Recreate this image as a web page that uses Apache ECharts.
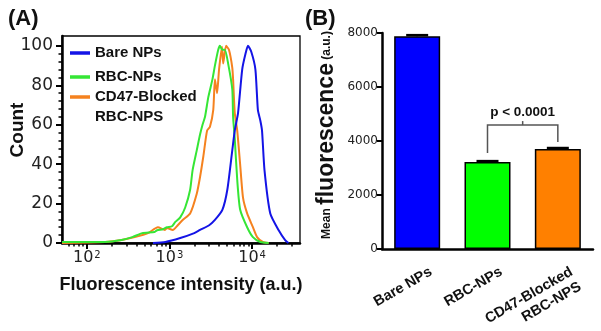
<!DOCTYPE html>
<html>
<head>
<meta charset="utf-8">
<script src="https://cdn.jsdelivr.net/npm/echarts@6/dist/echarts.min.js"></script>
<style>
html, body { margin: 0; padding: 0; background: #fff; }
#chart { width: 601px; height: 331px; }
</style>
</head>
<body>
<div id="chart"></div>
<script>
// (A) histograms, [intensity, count]
var bareNPs = [[631,0],[891,0.5],[1349,2.5],[1995,5],[2344,6.6],[3020,9],[3548,11.7],[4365,16.8],[5012,27],[5754,47],[6166,57],[6761,66],[7586,88],[8318,96],[8913,100],[9772,97],[10965,88],[11749,67.5],[12589,62],[13183,57],[14125,37],[16596,15],[20893,6.6],[25119,1.5],[27542,0]];
var rbcNPs = [[50,0.5],[166,0.5],[263,1.5],[355,3],[468,5],[661,5.6],[708,6.5],[832,7],[933,8],[1072,8.5],[1175,10.7],[1349,13],[1549,18],[1778,27],[1905,37],[2138,47],[2344,55],[2512,60],[2692,64],[2951,74],[3311,83],[3548,90],[3890,98],[4074,100],[4365,98],[4677,98],[5129,91],[5754,78],[5888,64],[6166,53],[6607,32],[7161,17],[8710,8],[10233,3],[12589,0.5],[15849,0]];
var cd47NPs = [[50,0],[166,0.5],[263,1.5],[380,3],[550,5],[724,8],[881,6.6],[933,7.6],[1096,6.6],[1259,9],[1445,11.7],[1778,15],[2138,25],[2344,33.5],[2570,44],[2851,57],[3090,59],[3388,67.5],[3548,83],[3767,76],[3981,88],[4325,99.5],[4467,91],[4842,100],[5248,98],[5754,89],[5888,83],[6166,66],[6607,57],[7161,40],[7762,23],[8710,15],[10233,8],[11482,3],[13490,0.5],[15849,0]];
var namesA = ['Bare NPs', 'RBC-NPs', 'CD47-Blocked\nRBC-NPS'];
var colorsA = ['#1414e6', '#35e635', '#f5821f'];
var countTicks = [0, 20, 40, 60, 80, 100];
var decadeTicks = [100, 1000, 10000];

// (B) mean fluorescence
var groups = ['Bare NPs', 'RBC-NPs', 'CD47-Blocked\nRBC-NPS'];
var meanFluor = [7880, 3220, 3700];
var errFluor = [40, 35, 40];
var barColors = ['#0000ff', '#00ff00', '#ff8000'];
var pText = 'p < 0.0001';
var bracket = [1, 2, 3560, 3960, 4590]; // from, to, left leg, right leg, top

var font = "'Liberation Sans', Arial, sans-serif";
var numFont = "'DejaVu Sans', sans-serif";

var xMin = 50, xMax = 38000;
var minorX = [];
for (var d = 10; d <= 10000; d *= 10) {
    for (var k = 2; k <= 9; k++) {
        if (k * d > xMin && k * d < xMax) minorX.push(k * d);
    }
}
var minorY = [];
for (var v = 4; v < 100; v += 4) {
    if (v % 20 !== 0) minorY.push(v);
}

var chart = echarts.init(document.getElementById('chart'));

var lineSeries = [bareNPs, rbcNPs, cd47NPs].map(function (d, i) {
    return {
        name: namesA[i],
        type: 'line',
        xAxisIndex: 0,
        yAxisIndex: 0,
        data: d,
        showSymbol: false,
        smooth: 0.2,
        color: colorsA[i],
        lineStyle: { width: 2 },
        z: 3 - i
    };
});

var legendText = { fontFamily: font, fontSize: 15, fontWeight: 'bold', color: '#111', lineHeight: 20 };

var option = {
    animation: false,
    title: [
        { text: '(A)', left: 8, top: 8, padding: 0, textStyle: { fontFamily: font, fontSize: 22, fontWeight: 'bold', color: '#111' } },
        { text: '(B)', left: 305, top: 8, padding: 0, textStyle: { fontFamily: font, fontSize: 22, fontWeight: 'bold', color: '#111' } }
    ],
    legend: [
        {
            data: namesA.slice(0, 2),
            orient: 'vertical',
            left: 70, top: 43, padding: 0, itemGap: 4,
            icon: 'rect', itemWidth: 20, itemHeight: 3.5,
            textStyle: legendText
        },
        {
            data: namesA.slice(2),
            orient: 'vertical',
            left: 70, top: 67, padding: 0,
            icon: 'rect', itemWidth: 20, itemHeight: 3.5,
            // blank first line keeps the swatch level with "CD47-Blocked"
            formatter: function (name) { return ' \n' + name; },
            textStyle: legendText
        }
    ],
    grid: [
        { left: 62, right: 301, top: 36, bottom: 88, outerBoundsMode: 'none', show: true, borderColor: '#000', borderWidth: 1.3, backgroundColor: 'transparent' },
        { left: 382, right: 8, top: 33, bottom: 82, outerBoundsMode: 'none' }
    ],
    xAxis: [
        {
            type: 'log', gridIndex: 0, min: xMin, max: xMax, position: 'bottom',
            name: 'Fluorescence intensity (a.u.)', nameLocation: 'middle', nameGap: 33, nameMoveOverlap: false,
            nameTextStyle: { fontFamily: font, fontSize: 18, fontWeight: 'bold', color: '#111' },
            axisLine: { onZero: false, lineStyle: { color: '#000', width: 2.5 } },
            axisTick: { customValues: decadeTicks, length: 6, lineStyle: { color: '#000', width: 2 } },
            axisLabel: {
                customValues: decadeTicks, margin: 7, color: '#222',
                formatter: function (val) { return '{n|10}{e|' + Math.round(Math.log10(val)) + '}'; },
                rich: {
                    n: { fontFamily: numFont, fontSize: 16, color: '#222' },
                    e: { fontFamily: numFont, fontSize: 10, color: '#222', verticalAlign: 'top', padding: [0, 0, 6, 1] }
                }
            },
            splitLine: { show: false }
        },
        {
            type: 'log', gridIndex: 0, min: xMin, max: xMax, position: 'bottom', offset: 0,
            axisLine: { show: false, onZero: false },
            axisTick: { customValues: minorX, length: 3.5, lineStyle: { color: '#000', width: 1.5 } },
            axisLabel: { show: false },
            splitLine: { show: false }
        },
        {
            type: 'category', gridIndex: 1, data: groups,
            axisLine: { lineStyle: { color: '#000', width: 2.5 } },
            axisTick: { alignWithLabel: true, length: 5, lineStyle: { color: '#000', width: 2.5 } },
            axisLabel: {
                interval: 0, rotate: 30, margin: 20, align: 'right', verticalAlign: 'top',
                padding: [0, -11, 0, 0], lineHeight: 17,
                fontFamily: font, fontSize: 14.5, fontWeight: 'bold', color: '#111'
            }
        }
    ],
    yAxis: [
        {
            type: 'value', gridIndex: 0, min: 0, max: 105, position: 'left',
            name: 'Count', nameLocation: 'middle', nameGap: 35, nameMoveOverlap: false,
            nameTextStyle: { fontFamily: font, fontSize: 19, fontWeight: 'bold', color: '#111', padding: [0, 0, 0, 19] },
            axisLine: { onZero: false, lineStyle: { color: '#000', width: 2.5 } },
            axisTick: { customValues: countTicks, length: 6, lineStyle: { color: '#000', width: 2 } },
            axisLabel: { customValues: countTicks, margin: 9, fontFamily: numFont, fontSize: 17, color: '#222' },
            splitLine: { show: false }
        },
        {
            type: 'value', gridIndex: 0, min: 0, max: 105, position: 'left', offset: 0,
            axisLine: { show: false, onZero: false },
            axisTick: { customValues: minorY, length: 3.5, lineStyle: { color: '#000', width: 1.5 } },
            axisLabel: { show: false },
            splitLine: { show: false }
        },
        {
            type: 'value', gridIndex: 1, min: 0, max: 8000, interval: 2000,
            name: '{s|Mean }{b|fluorescence}{s| (a.u.)}', nameLocation: 'middle', nameGap: 44, nameMoveOverlap: false,
            nameTextStyle: {
                padding: [0, 0, 0, 12],
                rich: {
                    s: { fontFamily: font, fontSize: 12, fontWeight: 'bold', color: '#111' },
                    b: { fontFamily: font, fontSize: 23, fontWeight: 'bold', color: '#111' }
                }
            },
            axisLine: { show: true, lineStyle: { color: '#000', width: 2.5 } },
            axisTick: { show: true, length: 5, lineStyle: { color: '#000', width: 2 } },
            axisLabel: { margin: 4, fontFamily: numFont, fontSize: 12, color: '#222', formatter: function (val) { return String(val); } },
            splitLine: { show: false }
        }
    ],
    series: lineSeries.concat([
        {
            type: 'bar', xAxisIndex: 2, yAxisIndex: 2, barWidth: 46,
            data: meanFluor.map(function (m, i) {
                return { value: m, itemStyle: { color: barColors[i] } };
            }),
            itemStyle: { borderColor: '#000', borderWidth: 1.5 }
        },
        {
            type: 'custom', xAxisIndex: 2, yAxisIndex: 2, z: 5,
            data: meanFluor.map(function (m, i) { return [i, m, errFluor[i]]; }),
            renderItem: function (params, api) {
                var base = api.coord([api.value(0), api.value(1)]);
                var top = api.coord([api.value(0), api.value(1) + api.value(2)]);
                var w = 22;
                return {
                    type: 'group',
                    children: [
                        { type: 'line', shape: { x1: top[0], y1: base[1], x2: top[0], y2: top[1] }, style: { stroke: '#000', lineWidth: 2 } },
                        { type: 'line', shape: { x1: top[0] - w / 2, y1: top[1], x2: top[0] + w / 2, y2: top[1] }, style: { stroke: '#000', lineWidth: 2.5 } }
                    ]
                };
            }
        },
        {
            type: 'custom', xAxisIndex: 2, yAxisIndex: 2, z: 5,
            data: [bracket],
            renderItem: function (params, api) {
                var a = api.coord([api.value(0), api.value(2)]);
                var b = api.coord([api.value(0), api.value(4)]);
                var c = api.coord([api.value(1), api.value(4)]);
                var d = api.coord([api.value(1), api.value(3)]);
                var mid = (b[0] + c[0]) / 2;
                return {
                    type: 'group',
                    children: [
                        { type: 'polyline', shape: { points: [a, b, c, d] }, style: { stroke: '#555', lineWidth: 1.5, fill: null } },
                        { type: 'line', shape: { x1: mid, y1: b[1], x2: mid, y2: b[1] - 4 }, style: { stroke: '#555', lineWidth: 1.5 } },
                        { type: 'text', x: mid, y: b[1] - 6, style: { text: pText, fontFamily: font, fontSize: 13.5, fontWeight: 'bold', fill: '#111', align: 'center', verticalAlign: 'bottom' } }
                    ]
                };
            }
        }
    ])
};

chart.setOption(option);
window.addEventListener('resize', function () {
    chart.resize();
});
</script>
</body>
</html>
